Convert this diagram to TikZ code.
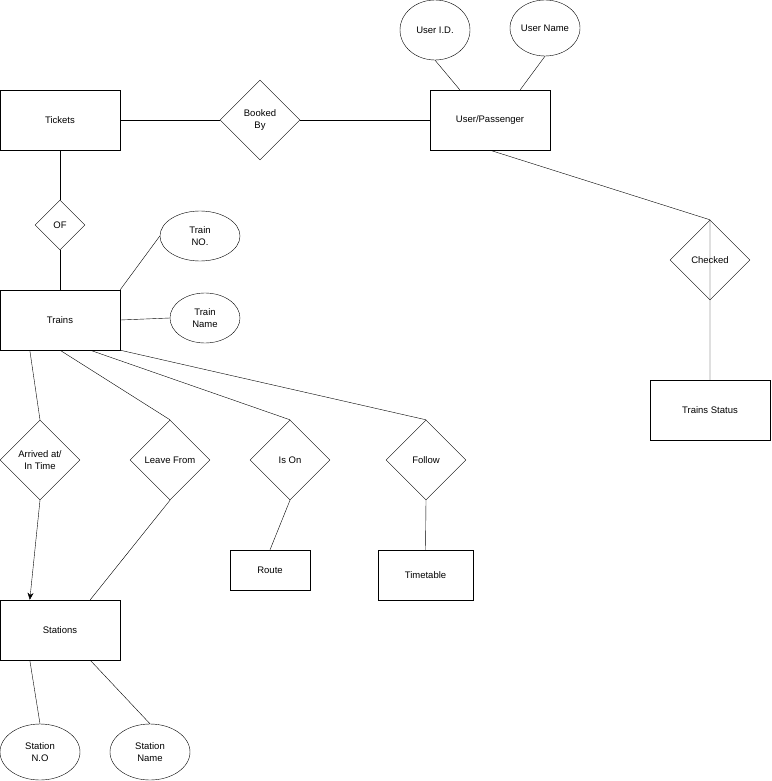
\documentclass[tikz,border=0pt]{standalone}
\usepackage{fontspec}
\setmainfont{Liberation Sans}
\usetikzlibrary{shapes.geometric,arrows.meta}
\begin{document}
\begin{tikzpicture}[x=1pt,y=-1pt,font=\fontsize{9.5}{11.5}\selectfont,
	ent/.style={draw,minimum width=120pt,minimum height=60pt,inner sep=0pt},
	rel/.style={draw,diamond,aspect=1,minimum width=80pt,minimum height=80pt,inner sep=0pt,align=center},
	att/.style={draw,ellipse,minimum width=70pt,minimum height=56pt,inner sep=0pt,align=center}]
	\useasboundingbox (0,0) rectangle (771,781);
	% entities
	\node[ent] (tickets) at (60,120) {Tickets};
	\node[ent] (user) at (490,120) {User/Passenger};
	\node[ent] (trains) at (60,320) {Trains};
	\node[ent] (status) at (710,410) {Trains Status};
	\node[ent] (stations) at (60,630) {Stations};
	\node[ent,minimum width=80pt,minimum height=40pt] (route) at (270,570) {Route};
	\node[ent,minimum width=95pt,minimum height=50pt] (timetable) at (425.5,575) {Timetable};
	% relations
	\node[rel] (booked) at (260,120) {Booked\\By};
	\node[rel,minimum width=50pt,minimum height=50pt] (of) at (60,225) {OF};
	\node[rel] (checked) at (710,260) {Checked};
	\node[rel] (arrived) at (40,460) {Arrived at/\\In Time};
	\node[rel] (leave) at (170,460) {Leave From};
	\node[rel] (ison) at (290,460) {Is On};
	\node[rel] (follow) at (426,460) {Follow};
	% attributes
	\node[att,minimum height=60pt] (uid) at (435,30) {User I.D.};
	\node[att] (uname) at (545,28) {User Name};
	\node[att,minimum width=80pt,minimum height=50pt] (trainno) at (200,236) {Train\\NO.};
	\node[att,minimum height=50pt] (trainname) at (205,318) {Train\\Name};
	\node[att,minimum width=80pt] (stno) at (40,752) {Station\\N.O};
	\node[att,minimum width=80pt] (stname) at (150,752) {Station\\Name};
	% links
	\draw (tickets) -- (booked) -- (user);
	\draw ([xshift=30pt]user.north west) -- (uid.south);
	\draw ([xshift=-30pt]user.north east) -- (uname.south);
	\draw (tickets) -- (of) -- (trains);
	\draw (trains.north east) -- (trainno.west);
	\draw (trains.east) -- (trainname.west);
	\draw (user.south) -- (checked.north) -- (status.north);
	\draw ([xshift=30pt]trains.south west) -- (arrived.north);
	\draw[-{Stealth[length=7pt,width=6pt]}] (arrived.south) -- ([xshift=30pt]stations.north west);
	\draw (trains.south) -- (leave.north);
	\draw (leave.south) -- ([xshift=-30pt]stations.north east);
	\draw ([xshift=-30pt]trains.south east) -- (ison.north);
	\draw (ison.south) -- (route.north);
	\draw (trains.south east) -- (follow.north);
	\draw (follow.south) -- (timetable.north);
	\draw ([xshift=30pt]stations.south west) -- (stno.north);
	\draw ([xshift=-30pt]stations.south east) -- (stname.north);
\end{tikzpicture}
\end{document}
